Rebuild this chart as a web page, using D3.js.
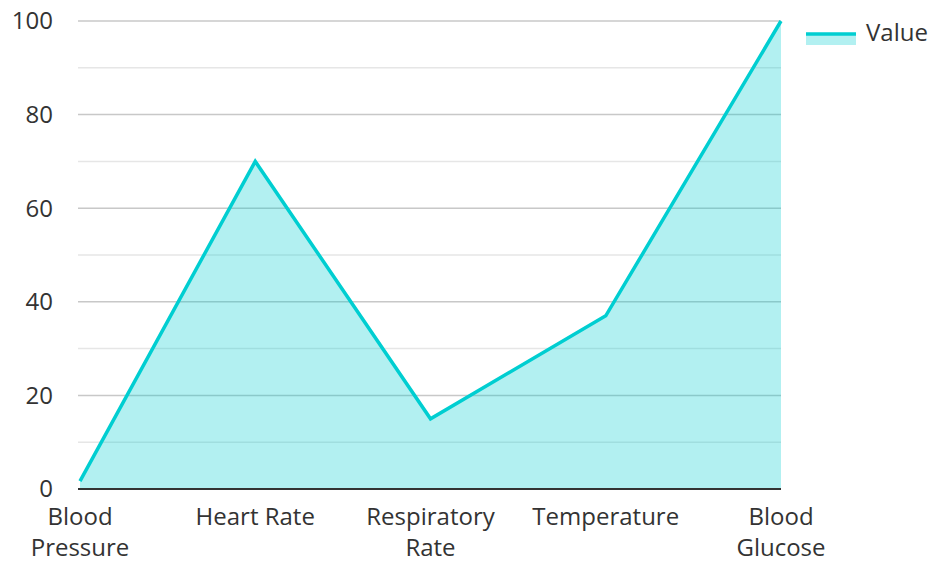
<!DOCTYPE html>
<html><head><meta charset="utf-8">
<script src="https://cdn.jsdelivr.net/npm/d3@7"></script>
<style>body{margin:0;background:#fff}text{font-family:"Open Sans",sans-serif;fill:#333}</style>
</head><body>
<svg id="c" width="930" height="561"></svg>
<script>
const categories = ["Blood Pressure","Heart Rate","Respiratory Rate","Temperature","Blood Glucose"];
const values = [1.7, 70, 15, 37, 100];
const yTicks = [0,20,40,60,80,100];
const seriesName = "Value";
const color = "#00CED1";

const svg = d3.select("#c");
const x = d3.scalePoint().domain(categories).range([80,781]);
const y = d3.scaleLinear().domain([0,100]).range([489,21]);

// grid
const grid = svg.append("g");
d3.range(0,101,10).forEach(v=>{
  if(v===0) return;
  grid.append("line").attr("x1",78).attr("x2",781).attr("y1",y(v)).attr("y2",y(v))
    .attr("stroke", v%20===0 ? "#c8c8c8" : "#e6e6e6").attr("stroke-width",1.5);
});
// y labels
svg.append("g").selectAll("text").data(yTicks).join("text")
  .attr("x",53).attr("y",d=>y(d)).attr("dy","0.35em").attr("text-anchor","end")
  .style("font-size","24px").text(d=>d);

const data = categories.map((c,i)=>({c,v:values[i]}));
svg.append("path").datum(data)
  .attr("d", d3.area().x(d=>x(d.c)).y0(y(0)).y1(d=>y(d.v)))
  .attr("fill",color).attr("fill-opacity",0.3);
svg.append("path").datum(data)
  .attr("d", d3.line().x(d=>x(d.c)).y(d=>y(d.v)))
  .attr("fill","none").attr("stroke",color).attr("stroke-width",3.5);

// x axis line
svg.append("line").attr("x1",78).attr("x2",781).attr("y1",y(0)).attr("y2",y(0))
  .attr("stroke","#333").attr("stroke-width",2);

// x labels
const xl = svg.append("g").selectAll("text").data(categories).join("text")
  .attr("x",d=>x(d)).attr("y",517).attr("text-anchor","middle")
  .style("font-size","24px");
xl.each(function(d){
  const words = d.split(" ");
  const t = d3.select(this);
  let lines = (d==="Heart Rate") ? [d] : words;
  lines.forEach((w,i)=>t.append("tspan").attr("x",x(d)).attr("dy", i===0?"0.35em":"31px").text(w));
});

// legend
svg.append("rect").attr("x",806).attr("y",33).attr("width",50).attr("height",12).attr("fill",color).attr("fill-opacity",0.3);
svg.append("line").attr("x1",806).attr("x2",856).attr("y1",34).attr("y2",34).attr("stroke",color).attr("stroke-width",3.5);
svg.append("text").attr("x",866).attr("y",33).attr("dy","0.35em").style("font-size","24px").text(seriesName);
</script>
</body></html>
